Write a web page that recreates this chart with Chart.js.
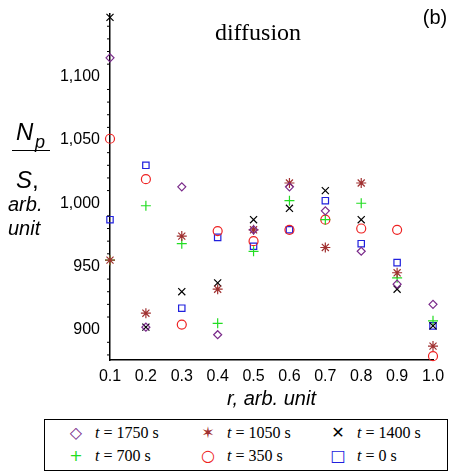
<!DOCTYPE html><html><head><script src="https://cdn.jsdelivr.net/npm/chart.js@4"></script>
<style>body{margin:0;background:#fff;width:474px;height:474px;overflow:hidden;font-family:"Liberation Serif",serif}
#wrap{position:absolute;left:0;top:0;width:474px;height:415px}
#lbl{position:absolute;left:8px;top:118px;font-family:Arial,"Liberation Sans";font-size:20px;font-style:italic;line-height:24px}
#leg{position:absolute;left:44px;top:419px;width:402px;height:50px;border:1px solid #000;font-size:16px}
.it{position:absolute;white-space:nowrap}.s{display:inline-block;width:22px;text-align:center;font-family:"DejaVu Sans";margin-right:8px}
</style></head><body>
<div id="wrap"><canvas id="c" width="474" height="415"></canvas></div>
<div id="lbl"><div style="position:relative;height:50px;width:60px"><span style="position:absolute;left:8px;top:2px;font-size:24px">N</span><span style="position:absolute;left:27px;top:12px;font-size:18px">p</span><div style="position:absolute;left:4px;top:32px;width:38px;border-top:1.5px solid #000"></div></div><div style="margin-left:8px;font-size:24px">S<span style="font-style:normal">,</span></div><div>arb.</div><div>unit</div></div>
<div id="leg">
<div class="it" style="left:20px;top:3px"><span class="s" style="color:#7a2a8a">◇</span><i>t</i> = 1750 s</div>
<div class="it" style="left:152px;top:3px"><span class="s" style="color:#a03030">✶</span><i>t</i> = 1050 s</div>
<div class="it" style="left:282px;top:3px"><span class="s" style="color:#000">✕</span><i>t</i> = 1400 s</div>
<div class="it" style="left:20px;top:26px"><span class="s" style="color:#22dd22">+</span><i>t</i> = 700 s</div>
<div class="it" style="left:152px;top:26px"><span class="s" style="color:#ee2222">○</span><i>t</i> = 350 s</div>
<div class="it" style="left:282px;top:26px"><span class="s" style="color:#2020dd">□</span><i>t</i> = 0 s</div>
</div>
<script>
const rVals=[0.1,0.2,0.3,0.4,0.5,0.6,0.7,0.8,0.9,1.0];
const t1750=[1115,902,1013,896,979,1013,994,962,936,920];
const t1050=[955,913,974,932,979,1016,965,1016,945,887];
const t1400=[1147,902,930,937,987,996,1010,987,932,903];
const t700=[955,998,968,905,962,1002,987,1000,941,907];
const t350=[1051,1019,904,978,970,979,987,980,979,879];
const t0=[987,1030,917,973,966,979,1002,968,953,903];
const xTicks=[0.1,0.2,0.3,0.4,0.5,0.6,0.7,0.8,0.9,1.0];
const yTicks=[900,950,1000,1050,1100];
const mk=(d,c,s,r)=>({data:rVals.map((x,i)=>({x,y:d[i]})),borderColor:c,backgroundColor:'transparent',pointStyle:s,pointRadius:r,pointBorderWidth:1.2,showLine:false});
const deco={id:'deco',afterDraw(ch){const c=ch.ctx,a=ch.chartArea;c.save();c.fillStyle='#000';c.font='24px "Liberation Serif"';c.textAlign='center';c.fillText('diffusion',258,40);c.font='20px Arial';c.fillText('(b)',435,24);
const y=ch.scales.y;c.strokeStyle='#000';c.lineWidth=1;for(let v=880;v<=1150;v+=10){if(v%50==0)continue;const p=y.getPixelForValue(v);if(p<a.top||p>a.bottom)continue;c.beginPath();c.moveTo(a.left-3,p);c.lineTo(a.left,p);c.stroke();}
c.restore();}};
new Chart(document.getElementById('c'),{type:'scatter',data:{datasets:[mk(t1750,'#7a2a8a','rectRot',4),mk(t1050,'#a03030','star',5),mk(t1400,'#000','crossRot',5),mk(t700,'#22dd22','cross',5),mk(t350,'#ee2222','circle',4.5),mk(t0,'#2020dd','rect',4.5)]},
options:{animation:false,responsive:false,devicePixelRatio:1,clip:false,layout:{padding:{top:5,right:41,left:0}},plugins:{legend:{display:false},tooltip:{enabled:false}},
scales:{x:{type:'linear',min:0.1,max:1.0,afterBuildTicks:s=>{s.ticks=xTicks.map(v=>({value:v}))},grid:{display:false,drawTicks:true,tickLength:5,tickColor:'#000'},border:{color:'#000',width:1.5},
ticks:{color:'#000',font:{family:'Arial',size:16},padding:2,callback:v=>v.toFixed(1)},title:{display:true,text:'r, arb. unit',color:'#000',font:{family:'Arial',size:20,style:'italic'},padding:{top:0}},afterFit:s=>{s.height=55}},
y:{min:876,max:1150,afterBuildTicks:s=>{s.ticks=yTicks.map(v=>({value:v}))},grid:{display:false,tickLength:6,tickColor:'#000'},border:{color:'#000',width:1.5},ticks:{color:'#000',font:{family:'Arial',size:16},padding:4},afterFit:s=>{s.width=110}}}},plugins:[deco]});
</script></body></html>
